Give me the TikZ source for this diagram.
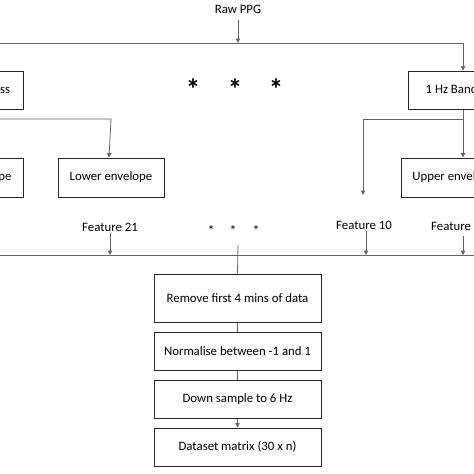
\documentclass[tikz,border=0pt]{standalone}
\usepackage{fontspec}
\setmainfont{Carlito}
\usetikzlibrary{arrows.meta}
\begin{document}
\begin{tikzpicture}[x=1pt,y=-1pt,
  font=\fontsize{12.8}{15}\selectfont,
  blok/.style={draw=black!85,line width=1pt,minimum height=38pt,inner sep=0pt,text=black},
  tekst/.style={inner sep=1pt,text=black},
  lijn/.style={draw=black!60,line width=0.8pt},
  pijl/.style={lijn,-{Triangle[width=4.5pt,length=4.5pt]}}]
\useasboundingbox (0,0) rectangle (474,474);
\clip (0,0) rectangle (474,474);
%
% ingang en filters
\node[tekst] (raw) at (238,9) {Raw PPG};
\coordinate (split) at (238,43);
\node[blok,minimum width=110pt] (bpA) at (-32,90) {0.5 Hz Bandpass};
\node[blok,minimum width=110pt] (bpB) at (463,90) {1 Hz Bandpass};
\foreach \sx in {193,235,276}
  \node[inner sep=0pt,font=\fontsize{29}{32}\selectfont\bfseries] (ster\sx) at (\sx,89) {*};
\draw[pijl] ([yshift=-6pt]raw.south) -- (split);
\draw[pijl] (split) -| (bpA.north);
\draw[pijl] (split) -| (bpB.north);
%
% omhullenden
\node[blok,minimum width=106pt,minimum height=39pt] (upA) at (-30,177.5) {Upper envelope};
\node[blok,minimum width=106pt,minimum height=39pt] (loA) at (111,177.5) {Lower envelope};
\node[blok,minimum width=106pt,minimum height=39pt] (upB) at (454,177.5) {Upper envelope};
\coordinate (takR) at (463,119);
\coordinate (losR) at (363,195);
\draw[pijl] (bpA.south) |- (takR -| loA.north) -- ([xshift=-2pt]loA.north);
\draw[pijl] (bpB.south) -- (bpB.south |- upB.north);
\draw[pijl] (takR) -| (losR);
%
% kenmerken
\coordinate (bus0) at (0,255);
\coordinate (bus1) at (474,255);
\node[tekst] (f21) at (110,227) {Feature 21};
\node[tekst] (f10) at (364,225) {Feature 10};
\node[tekst,anchor=west] (f11) at (430,226) {Feature 11};
\foreach \sx in {211,233,256}
  \node[inner sep=0pt,font=\fontsize{14}{16}\selectfont] (stip\sx) at (\sx,231) {*};
\draw[lijn] (bus0) -- (bus1);
\draw[pijl] ([yshift=-1pt]f21.south) -- (f21.south |- bus0);
\draw[pijl] ([xshift=2pt,yshift=-1pt]f10.south) -- ([xshift=2pt]f10.south |- bus0);
\coordinate (f11pijl) at (463,236);
\draw[pijl] (f11pijl) -- (f11pijl |- bus0);
%
% verwerking
\coordinate (busM) at (238,245);
\node[blok,minimum width=167pt,minimum height=48pt] (s1) at (237.5,298) {Remove first 4 mins of data};
\node[blok,minimum width=167pt] (s2) at (237.5,351) {Normalise between -1 and 1};
\node[blok,minimum width=167pt] (s3) at (237.5,399) {Down sample to 6 Hz};
\node[blok,minimum width=167pt] (s4) at (237.5,447) {Dataset matrix (30 x n)};
\draw[lijn] (busM) -- (s1.north);
\draw[lijn] (s1) -- (s2);
\draw[lijn] (s2) -- (s3);
\draw[pijl] (s3) -- (s4);
\end{tikzpicture}
\end{document}
